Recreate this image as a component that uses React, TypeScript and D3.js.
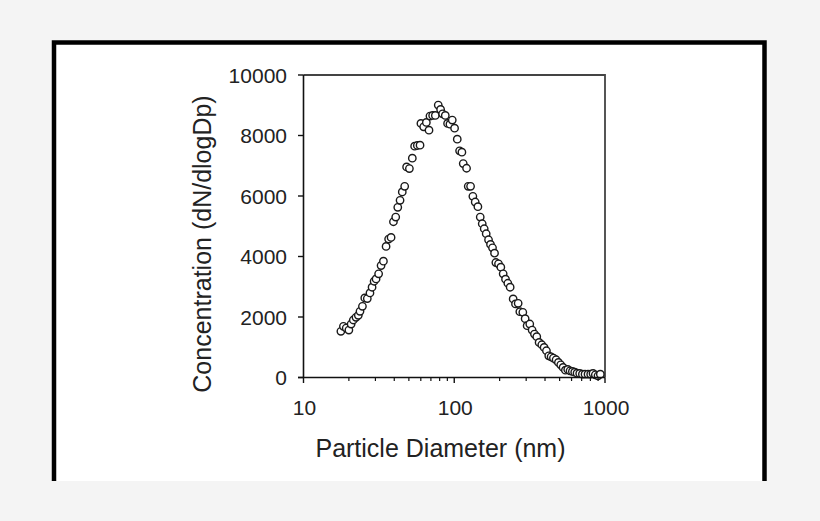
import * as d3 from "d3";

// particle size distribution
const diameters = [
  17.7, 18.4, 19.2, 20.0, 20.7, 21.4, 22.3, 23.1, 23.7, 24.6, 25.5, 26.5, 27.6,
  28.5, 29.4, 30.3, 31.5, 32.7, 33.9, 35.3, 36.7, 38.1, 39.5, 40.9, 42.2, 43.7,
  45.2, 46.9, 48.3, 50.4, 52.7, 54.6, 56.9, 59.3, 60.1, 62.7, 65.3, 68.0, 69.0,
  71.9, 74.9, 78.3, 81.2, 83.7, 87.2, 90.3, 93.6, 97.0, 100.5, 104.7, 108.5,
  112.4, 114.7, 120.7, 123.8, 128.3, 132.9, 137.7, 143.5, 148.7, 153.3, 158.0,
  162.9, 168.8, 174.0, 179.4, 185.0, 188.8, 196.6, 203.7, 211.1, 218.8, 226.7,
  234.9, 245.9, 254.8, 265.4, 272.3, 285.0, 295.3, 304.4, 317.0, 328.5, 340.4,
  352.7, 365.5, 380.7, 394.5, 408.8, 423.6, 438.9, 454.8, 473.7, 490.9, 508.6,
  527.1, 546.1, 565.9, 586.4, 607.6, 629.6, 652.4, 679.5, 707.8, 737.1, 771.6,
  803.7, 832.8, 862.9, 898.6, 931.3,
];
const concentrations = [
  1525, 1691, 1635, 1569, 1768, 1901, 1989, 2055, 2188, 2354, 2630, 2608, 2796,
  2984, 3182, 3260, 3426, 3702, 3845, 4332, 4575, 4630, 5149, 5304, 5624, 5857,
  6133, 6321, 6962, 6906, 7249, 7647, 7669, 7680, 8398, 8288, 8431, 8177, 8641,
  8663, 8663, 9006, 8862, 8718, 8663, 8398, 8376, 8509, 8243, 7879, 7492, 7448,
  7072, 6917, 6321, 6321, 5989, 5801, 5647, 5304, 5083, 4917, 4752, 4553, 4398,
  4287, 4111, 3801, 3757, 3647, 3426, 3249, 3116, 2984, 2597, 2431, 2453, 2177,
  2155, 1945, 1713, 1768, 1569, 1437, 1348, 1160, 1083, 995, 884, 718, 685, 641,
  586, 497, 420, 332, 243, 265, 221, 199, 177, 144, 133, 111, 111, 111, 111, 133,
  88, 55, 111,
];

const yTicks = [0, 2000, 4000, 6000, 8000, 10000];
const xMajor = [10, 100, 1000];
const xMinor = [20, 30, 40, 50, 60, 70, 80, 90, 200, 300, 400, 500, 600, 700, 800, 900];

const W = 820;
const H = 521;
const font = "'Liberation Sans', Arial, Helvetica, sans-serif";

export default function App() {
  const x = d3.scaleLog().domain([10, 1000]).range([303.5, 605]);
  const y = d3.scaleLinear().domain([0, 10000]).range([377.5, 75]);
  const [x0, x1] = x.range();
  const [y0, y1] = y.range();

  const points = diameters.map((d, i) => ({ d, c: concentrations[i] }));

  return (
    <svg
      width={W}
      height={H}
      style={{ position: "absolute", left: 0, top: 0 }}
      fontFamily={font}
    >
      <rect width={W} height={H} fill="#f4f4f4" />
      {/* outer panel, open at the bottom */}
      <rect x={54} y={42} width={710} height={439} fill="#fff" />
      <path
        d={`M54,481 V42.5 H764.5 V481`}
        fill="none"
        stroke="#000"
        strokeWidth={4.5}
      />

      {/* plot box top/right */}
      <path
        d={`M${x0},${y1} H${x1} V${y0}`}
        fill="none"
        stroke="#444"
        strokeWidth={1.8}
      />

      {/* markers */}
      {points.map((p, i) => (
        <circle
          key={i}
          cx={x(p.d)}
          cy={y(p.c)}
          r={3.7}
          fill="#fff"
          stroke="#1a1a1a"
          strokeWidth={1.4}
        />
      ))}

      {/* y axis */}
      <line x1={x0} x2={x0} y1={y1} y2={y0} stroke="#111" strokeWidth={1.6} />
      {yTicks.map((t) => (
        <g key={t}>
          <line x1={x0 - 5.5} x2={x0} y1={y(t)} y2={y(t)} stroke="#111" strokeWidth={1.4} />
          <text
            x={287}
            y={y(t) + 7.5}
            textAnchor="end"
            fontSize={21}
            fill="#222"
          >
            {t}
          </text>
        </g>
      ))}

      {/* x axis */}
      <line x1={x0 - 5.5} x2={x1} y1={y0} y2={y0} stroke="#111" strokeWidth={1.6} />
      {xMajor.map((t) => (
        <g key={t}>
          <line x1={x(t)} x2={x(t)} y1={y0} y2={y0 + 5.5} stroke="#111" strokeWidth={1.4} />
          <text x={x(t) + 1} y={415} textAnchor="middle" fontSize={21} fill="#222">
            {t}
          </text>
        </g>
      ))}
      {xMinor.map((t) => (
        <line key={t} x1={x(t)} x2={x(t)} y1={y0} y2={y0 + 3.5} stroke="#111" strokeWidth={1.2} />
      ))}

      <text x={440.5} y={457} textAnchor="middle" fontSize={25} fill="#222">
        Particle Diameter (nm)
      </text>
      <text
        transform={`translate(211,244) rotate(-90)`}
        textAnchor="middle"
        fontSize={25}
        fill="#222"
      >
        Concentration (dN/dlogDp)
      </text>
    </svg>
  );
}
